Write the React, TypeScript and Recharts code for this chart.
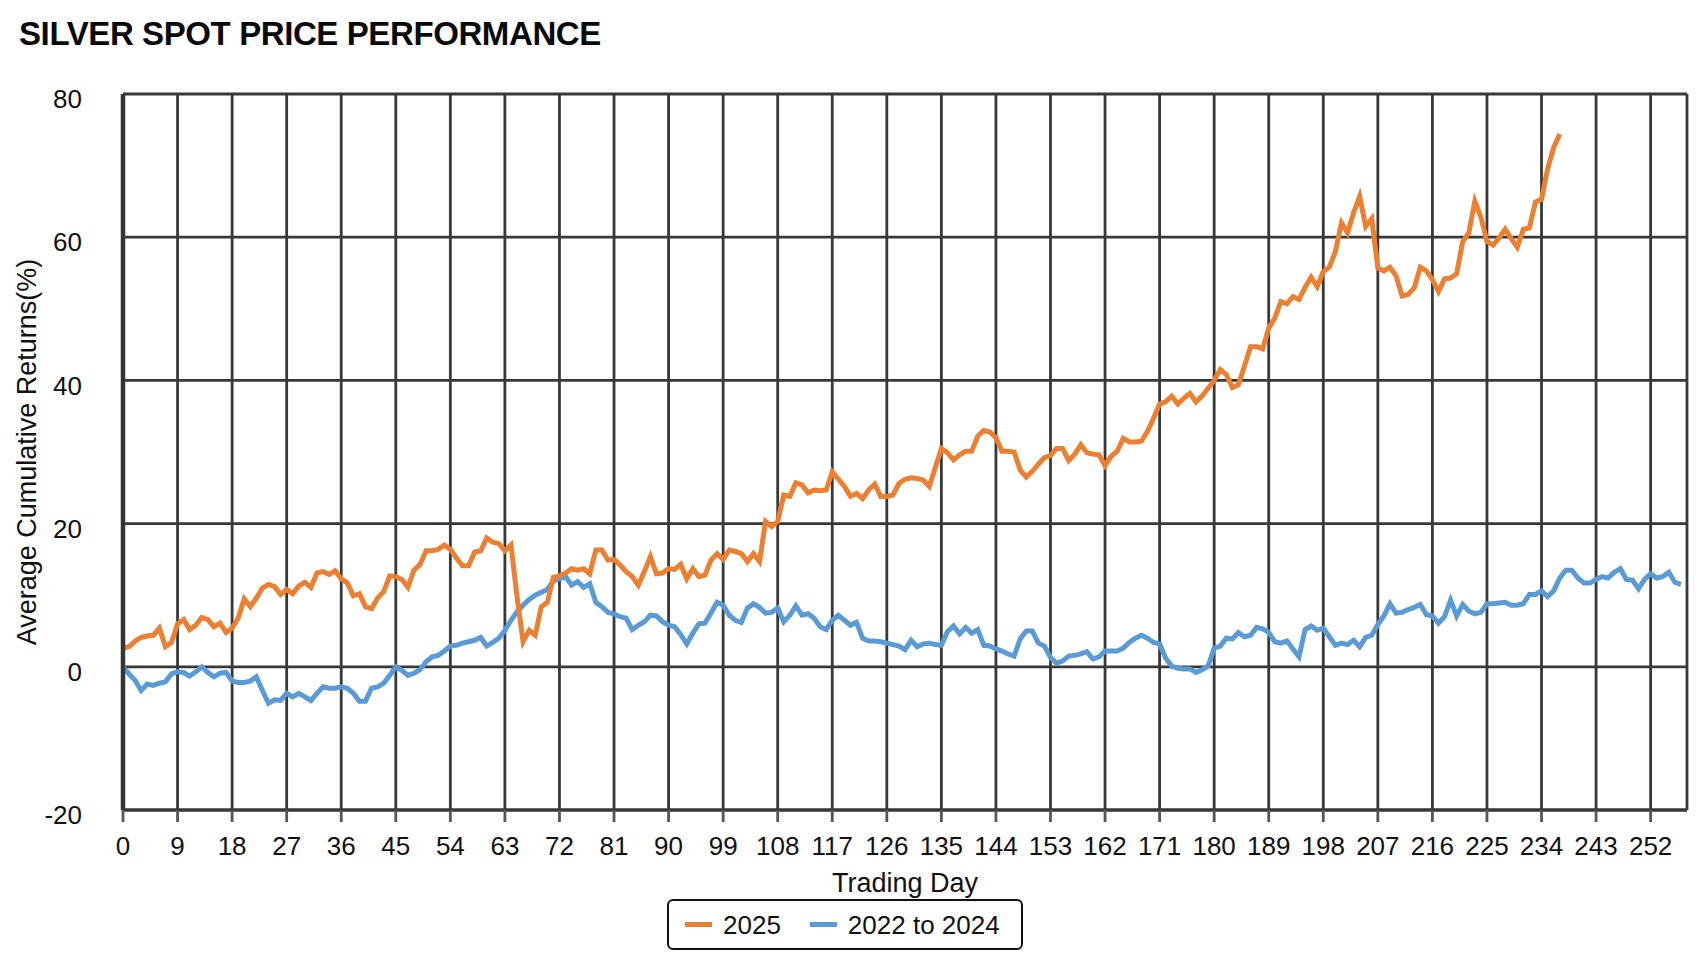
import React from "react";
import { LineChart, Line, XAxis, YAxis, CartesianGrid } from "recharts";

// Trading day categories are the array index (0 .. 257)
const xTicks = [0, 9, 18, 27, 36, 45, 54, 63, 72, 81, 90, 99, 108, 117, 126, 135, 144, 153, 162, 171, 180, 189, 198, 207, 216, 225, 234, 243, 252];
const yTicks = [-20, 0, 20, 40, 60, 80];

// 2025 cumulative returns (%), one value per trading day 0..237
const returns2025 = [
  2.6, 2.8, 3.6, 4.1, 4.3, 4.4, 5.4, 2.8, 3.4, 6.0,
  6.6, 5.2, 5.8, 6.9, 6.6, 5.6, 6.1, 4.8, 5.4, 6.8,
  9.5, 8.4, 9.6, 11.0, 11.5, 11.2, 10.1, 10.8, 10.2, 11.3,
  11.8, 11.1, 13.1, 13.3, 12.9, 13.4, 12.3, 11.7, 9.9, 10.2,
  8.4, 8.1, 9.6, 10.5, 12.7, 12.6, 12.2, 11.1, 13.5, 14.3,
  16.2, 16.2, 16.4, 17.0, 16.4, 15.2, 14.1, 14.1, 16.0, 16.2,
  18.0, 17.4, 17.2, 16.2, 17.0, 9.8, 3.5, 5.1, 4.4, 8.4,
  9.0, 12.5, 12.7, 13.1, 13.7, 13.5, 13.7, 13.0, 16.3, 16.3,
  14.9, 15.0, 14.2, 13.3, 12.6, 11.4, 13.3, 15.4, 13.0, 13.1,
  13.7, 13.6, 14.3, 12.3, 13.7, 12.6, 12.8, 14.9, 15.8, 15.0,
  16.3, 16.1, 15.8, 14.7, 15.8, 14.7, 20.3, 19.6, 20.3, 24.0,
  23.8, 25.7, 25.4, 24.3, 24.7, 24.6, 24.7, 27.2, 26.2, 25.2,
  23.8, 24.2, 23.5, 24.7, 25.5, 23.8, 23.8, 24.0, 25.6, 26.2,
  26.4, 26.3, 26.1, 25.2, 27.8, 30.5, 29.9, 28.9, 29.6, 30.1,
  30.1, 32.2, 33.0, 32.8, 32.0, 30.1, 30.1, 30.0, 27.5, 26.5,
  27.3, 28.3, 29.2, 29.5, 30.5, 30.5, 28.8, 29.7, 31.0, 29.9,
  29.7, 29.6, 28.1, 29.4, 30.1, 31.9, 31.4, 31.4, 31.5, 32.9,
  34.7, 36.7, 37.0, 37.8, 36.7, 37.5, 38.2, 37.0, 37.8, 38.9,
  40.0, 41.5, 40.8, 39.0, 39.4, 42.0, 44.7, 44.7, 44.4, 47.3,
  48.7, 51.0, 50.7, 51.7, 51.3, 53.0, 54.4, 53.1, 55.2, 55.8,
  58.0, 62.0, 60.6, 63.4, 65.7, 61.5, 62.6, 55.7, 55.3, 55.8,
  54.6, 51.8, 52.0, 52.9, 55.8, 55.3, 54.1, 52.4, 54.2, 54.3,
  54.9, 59.4, 60.6, 65.0, 62.8, 59.4, 58.9, 59.9, 61.1, 59.8,
  58.6, 61.1, 61.3, 64.9, 65.3, 69.5, 72.5, 74.4,
];

// 2022 to 2024 average cumulative returns (%), trading day 0..257
const returns2022to2024 = [
  0.0, -1.0, -1.9, -3.3, -2.4, -2.6, -2.3, -2.1, -1.0, -0.7,
  -0.8, -1.3, -0.7, 0.0, -0.8, -1.4, -0.9, -0.8, -2.0, -2.2,
  -2.2, -2.0, -1.4, -3.3, -5.1, -4.6, -4.7, -3.7, -4.2, -3.7,
  -4.2, -4.7, -3.7, -2.8, -3.0, -3.0, -2.8, -3.0, -3.7, -4.8,
  -4.8, -3.0, -2.8, -2.3, -1.2, 0.0, -0.5, -1.2, -0.9, -0.4,
  0.7, 1.4, 1.6, 2.2, 2.9, 3.0, 3.3, 3.5, 3.7, 4.1,
  2.9, 3.4, 4.0, 5.1, 6.5, 7.7, 8.6, 9.4, 10.0, 10.4,
  10.8, 12.0, 12.3, 12.6, 11.4, 11.9, 11.1, 11.6, 9.0, 8.4,
  7.6, 7.4, 7.0, 6.8, 5.2, 5.8, 6.3, 7.2, 7.1, 6.3,
  5.8, 5.6, 4.5, 3.2, 4.7, 6.0, 6.1, 7.5, 9.0, 8.6,
  7.2, 6.5, 6.2, 8.2, 8.8, 8.3, 7.5, 7.6, 8.2, 6.3,
  7.2, 8.5, 7.2, 7.4, 6.8, 5.6, 5.2, 6.5, 7.2, 6.5,
  5.8, 6.2, 4.0, 3.6, 3.6, 3.5, 3.3, 3.1, 2.9, 2.4,
  3.7, 2.8, 3.2, 3.3, 3.1, 3.0, 4.9, 5.7, 4.6, 5.5,
  4.7, 5.2, 3.0, 2.9, 2.5, 2.2, 1.8, 1.5, 3.9, 5.0,
  5.0, 3.3, 2.9, 1.3, 0.5, 0.8, 1.5, 1.6, 1.8, 2.1,
  1.1, 1.4, 2.2, 2.2, 2.2, 2.6, 3.4, 4.0, 4.4, 4.0,
  3.4, 3.2, 1.2, 0.1, -0.2, -0.3, -0.3, -0.8, -0.4, 0.1,
  2.6, 2.9, 4.0, 3.9, 4.8, 4.2, 4.4, 5.5, 5.3, 4.8,
  3.5, 3.3, 3.6, 2.5, 1.4, 5.2, 5.7, 5.1, 5.4, 4.2,
  3.0, 3.3, 3.1, 3.7, 2.8, 4.1, 4.4, 5.9, 7.1, 8.8,
  7.5, 7.6, 8.0, 8.3, 8.7, 7.3, 7.1, 6.1, 7.0, 9.3,
  7.1, 8.7, 7.8, 7.4, 7.6, 8.8, 8.8, 8.9, 9.0, 8.6,
  8.6, 8.8, 10.1, 10.1, 10.6, 9.8, 10.6, 12.4, 13.5, 13.5,
  12.4, 11.7, 11.7, 12.2, 12.6, 12.4, 13.2, 13.7, 12.2, 12.1,
  10.9, 12.2, 13.0, 12.4, 12.6, 13.2, 11.8, 11.5,
];

const seriesNames = ["2025", "2022 to 2024"];
const seriesColors = ["#EB7F32", "#5B9BD5"];

const tableData = returns2022to2024.map((v, i) => ({
  day: i,
  r2025: i < returns2025.length ? returns2025[i] : undefined,
  r2224: v,
}));

const FONT = '"Liberation Sans", Arial, sans-serif';
const GRID = "#383838";

export default function App() {
  return (
    <div
      style={{
        position: "absolute",
        left: 0,
        top: 0,
        width: 1703,
        height: 957,
        background: "#ffffff",
        fontFamily: FONT,
        color: "#111",
        overflow: "hidden",
      }}
    >
      <div
        style={{
          position: "absolute",
          left: 19,
          top: 17,
          fontSize: 33,
          lineHeight: 1,
          fontWeight: 700,
          letterSpacing: -0.4,
          whiteSpace: "nowrap",
          color: "#0a0a0a",
        }}
      >
        SILVER SPOT PRICE PERFORMANCE
      </div>

      <div style={{ position: "absolute", left: 0, top: 0 }}>
        <LineChart
          width={1703}
          height={957}
          data={tableData}
          margin={{ top: 94, right: 16, bottom: 107, left: 0 }}
        >
          <CartesianGrid stroke={GRID} strokeWidth={2.8} />
          <XAxis
            dataKey="day"
            type="number"
            domain={[0, 258]}
            ticks={xTicks}
            interval={0}
            height={40}
            tickSize={12}
            tickMargin={15}
            axisLine={{ stroke: GRID, strokeWidth: 2.8 }}
            tickLine={{ stroke: "#555", strokeWidth: 2.8 }}
            tick={{ fontSize: 26, fill: "#111", fontFamily: FONT }}
          />
          <YAxis
            type="number"
            domain={[-20, 80]}
            ticks={yTicks}
            interval={0}
            width={123}
            tickSize={0}
            tickMargin={41}
            axisLine={{ stroke: "#353535", strokeWidth: 4.5 }}
            tickLine={false}
            tick={{ fontSize: 26, fill: "#111", fontFamily: FONT, dy: 5 }}
          />
          <Line
            type="linear"
            dataKey="r2224"
            name={seriesNames[1]}
            stroke={seriesColors[1]}
            strokeWidth={5}
            dot={false}
            isAnimationActive={false}
          />
          <Line
            type="linear"
            dataKey="r2025"
            name={seriesNames[0]}
            stroke={seriesColors[0]}
            strokeWidth={5}
            dot={false}
            connectNulls={false}
            isAnimationActive={false}
          />
        </LineChart>
      </div>

      <div
        style={{
          position: "absolute",
          left: 27,
          top: 452,
          transform: "translate(-50%, -50%) rotate(-90deg)",
          fontSize: 27,
          lineHeight: 1,
          whiteSpace: "nowrap",
        }}
      >
        Average Cumulative Returns(%)
      </div>

      <div
        style={{
          position: "absolute",
          left: 905,
          top: 883,
          transform: "translate(-50%, -50%)",
          fontSize: 27,
          lineHeight: 1,
          whiteSpace: "nowrap",
        }}
      >
        Trading Day
      </div>

      <div
        style={{
          position: "absolute",
          left: 667,
          top: 899,
          width: 356,
          height: 51,
          boxSizing: "border-box",
          border: "2.5px solid #111",
          borderRadius: 6,
          display: "flex",
          alignItems: "center",
          fontSize: 26,
          lineHeight: 1,
          whiteSpace: "nowrap",
        }}
      >
        <span style={{ display: "inline-block", width: 27, height: 5, background: seriesColors[0], marginLeft: 16 }} />
        <span style={{ marginLeft: 11 }}>{seriesNames[0]}</span>
        <span style={{ display: "inline-block", width: 27, height: 5, background: seriesColors[1], marginLeft: 29 }} />
        <span style={{ marginLeft: 11 }}>{seriesNames[1]}</span>
      </div>
    </div>
  );
}
